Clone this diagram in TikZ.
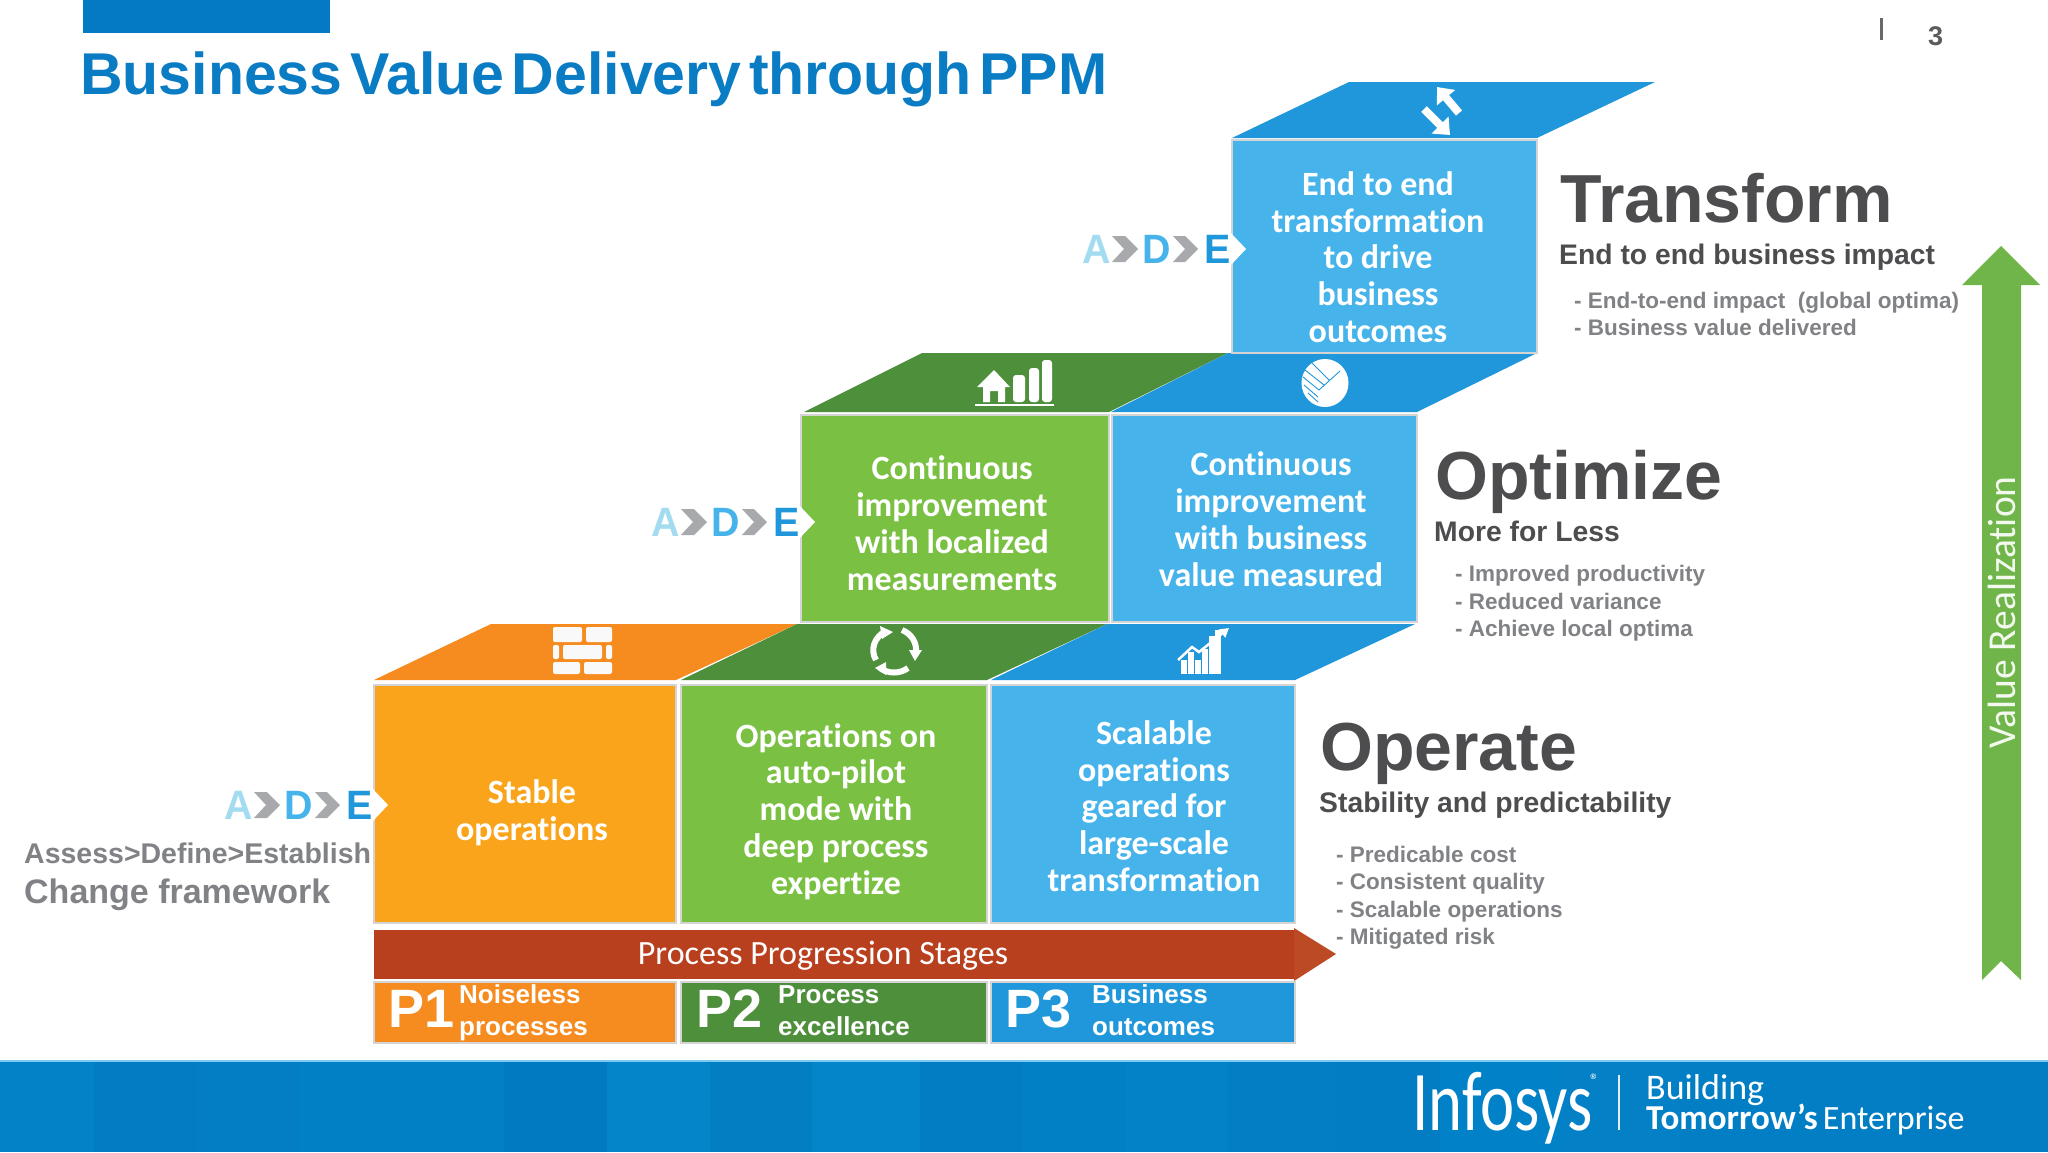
\documentclass[tikz,border=0pt]{standalone}
\usepackage{fontspec}
\usetikzlibrary{arrows.meta}
\setmainfont{Liberation Sans}
\newfontfamily\carl[Ligatures=NoCommon]{Carlito}
\definecolor{oFace}{HTML}{FAA41B}\definecolor{oTop}{HTML}{F68B1F}
\definecolor{gFace}{HTML}{7AC143}\definecolor{gTop}{HTML}{4E8F3C}
\definecolor{bFace}{HTML}{46B4EA}\definecolor{bTop}{HTML}{1F97DA}
\definecolor{redBar}{HTML}{B8401F}\definecolor{redHead}{HTML}{BC4A25}
\definecolor{head}{HTML}{4D4D4F}\definecolor{greyT}{HTML}{808285}
\definecolor{titleB}{HTML}{0A7CC4}\definecolor{tabB}{HTML}{0479C4}
\definecolor{chev}{HTML}{A7A9AC}\definecolor{aLight}{HTML}{A3DCF0}
\definecolor{arrowG}{HTML}{70B54A}\definecolor{edgeG}{HTML}{D4D4D4}
\definecolor{footB}{HTML}{0280C6}
\newcommand{\fsz}[1]{\fontsize{#1}{#1}\selectfont}
\tikzset{
 x=1pt,y=-1pt,
 face/.style={draw=edgeG,line width=1.2pt},
 boxtext/.style={font=\carl\bfseries\fontsize{34}{36.8}\selectfont,text=white,align=center,inner sep=0pt},
 htitle/.style={anchor=base west,inner sep=0pt,text=head,font=\bfseries\fsz{68}},
 hsub/.style={anchor=base west,inner sep=0pt,text=head,font=\bfseries\fsz{28.3}},
 hitem/.style={anchor=base west,inner sep=0pt,text=greyT,font=\bfseries\fsz{22.5}},
 adeletter/.style={anchor=base west,inner sep=0pt,xscale=.96,font=\bfseries\fsz{41}},
 pbig/.style={anchor=base west,inner sep=0pt,text=white,font=\bfseries\fsz{54}},
 psmall/.style={anchor=base west,align=left,inner sep=0pt,text=white,font=\bfseries\fontsize{26}{31.5}\selectfont},
 logotext/.style={anchor=base west,inner sep=0pt,text=white,font=\carl\fsz{36}},
 brick/.style={fill=white!95!gray,rounded corners=2pt},
 icon/.style={white,line width=#1},
}
\newcommand{\ademark}[3]{% left edge of box, centre y, name
 \begin{scope}[shift={(#1,#2)}]
  \node[adeletter,text=aLight] (#3a) at (-150,14) {A};
  \fill[chev] (-120,-13)--(-107,-13)--(-94,0)--(-107,13)--(-120,13)--(-108,0)--cycle;
  \node[adeletter,text=bFace] (#3d) at (-90,14) {D};
  \fill[chev] (-59,-13)--(-47,-13)--(-34,0)--(-47,13)--(-59,13)--(-47,0)--cycle;
  \node[adeletter,text=bTop] (#3e) at (-28,14) {E};
  \fill[white] (-3,-18)--(14,0)--(-3,18)--cycle;
 \end{scope}}
\begin{document}
\begin{tikzpicture}
\useasboundingbox (0,0) rectangle (2048,1152);
\fill[white] (0,0) rectangle (2048,1152);
% footer
\foreach \xa/\xb/\cc in {0/94/0483CA,94/196/0479C0,196/299/037DC3,299/397/0280C6,397/504/0280C6,504/607/0276BE,607/710/0587CB,710/812/027CC1,812/920/0588CC,920/1022/0279BF,1022/1125/0280C5,1125/1228/0484C9,1228/1335/027DC2,1335/1440/0279BF,1440/1560/0082C8,1560/1680/0480C6,1680/1800/017EC3,1800/1920/027DC2,1920/2048/0279BF}{
 \definecolor{stripeC}{HTML}{\cc}
 \fill[stripeC!55!footB] (\xa,1060) rectangle (\xb+0.5,1152);}
\fill[bFace!70!white] (0,1060) rectangle (2048,1061.5);
% header
\fill[tabB] (83,0) rectangle (330,33);
\node[anchor=base west,inner sep=0pt,text=titleB,font=\bfseries\fsz{59}] (title) at (80,94) {\spaceskip=7.6pt Business Value Delivery through PPM};
\draw[greyT!80!black,line width=2.4pt] (1881.5,18) -- (1881.5,40);
\node[anchor=base west,inner sep=0pt,text=greyT!70!black,font=\bfseries\fsz{27}] (pageno) at (1928,45) {3};
% top faces (parallelograms)
\fill[bTop] (1232,138)--(1349,82)--(1655,82)--(1537,138)--cycle;
\fill[gTop] (804,412)--(922,353)--(1228,353)--(1109,412)--cycle;
\fill[bTop] (1111,412)--(1228,353)--(1537,353)--(1417,412)--cycle;
\fill[oTop] (374,680)--(491,624)--(797,624)--(676,680)--cycle;
\fill[gTop] (681,680)--(797,624)--(1107,624)--(987,680)--cycle;
\fill[bTop] (991,680)--(1107,624)--(1415,624)--(1295,680)--cycle;
% front faces
\filldraw[face,fill=bFace] (1232,140) rectangle (1537,353);
\filldraw[face,fill=gFace] (801,415) rectangle (1109,622);
\filldraw[face,fill=bFace] (1112,415) rectangle (1417,622);
\filldraw[face,fill=oFace] (374,685) rectangle (676,923);
\filldraw[face,fill=gFace] (681,685) rectangle (987,923);
\filldraw[face,fill=bFace] (991,685) rectangle (1295,923);
% box texts
\node[boxtext] (t1) at (1378,257) {End to end\\transformation\\to drive\\business\\outcomes};
\node[boxtext] (t2) at (952,523) {Continuous\\improvement\\with localized\\measurements};
\node[boxtext] (t3) at (1271,519) {Continuous\\improvement\\with business\\value measured};
\node[boxtext] (t4) at (532,812.5) {Stable\\operations};
\node[boxtext] (t5) at (836,811.5) {Operations on\\auto-pilot\\mode with\\deep process\\expertize};
\node[boxtext] (t6) at (1154,806) {Scalable\\operations\\geared for\\large-scale\\transformation};
% red bar
\fill[redBar] (374,930) rectangle (1295,979);
\fill[redHead] (1294,928)--(1336,954)--(1294,981)--cycle;
\node[boxtext,font=\carl\fsz{34}] (stages) at (823,955.5) {Process Progression Stages};
% P strip
\filldraw[face,fill=oTop] (374,982) rectangle (676,1043);
\filldraw[face,fill=gTop] (681,982) rectangle (987,1043);
\filldraw[face,fill=bTop] (991,982) rectangle (1295,1043);
\node[pbig] (p1) at (388,1027) {P1};
\node[psmall] (p1a) at (459,1035) {Noiseless\\processes};
\node[pbig] (p2) at (696,1027) {P2};
\node[psmall] (p2a) at (778,1035) {Process\\excellence};
\node[pbig] (p3) at (1005,1027) {P3};
\node[psmall] (p3a) at (1092,1035) {Business\\outcomes};
% A>D>E
\ademark{374}{805}{m}
\ademark{801}{522}{n}
\ademark{1232}{249}{o}
% left caption
\node[anchor=base west,inner sep=0pt,text=greyT,font=\bfseries\fsz{28.5}] (adef) at (24,863) {Assess>Define>Establish};
\node[anchor=base west,inner sep=0pt,text=greyT,font=\bfseries\fsz{34}] (chfr) at (24,903) {Change framework};
% right labels
\node[htitle] (tr) at (1560,222) {Transform};
\node[hsub] (tr1) at (1559,264) {End to end business impact};
\node[hitem] (tr2) at (1574,308) {- End-to-end impact\ \ (global optima)};
\node[hitem] (tr3) at (1574,335) {- Business value delivered};
\node[htitle] (op) at (1435,499) {Optimize};
\node[hsub] (op1) at (1434,541) {More for Less};
\node[hitem] (op2) at (1455,581) {- Improved productivity};
\node[hitem] (op3) at (1455,609) {- Reduced variance};
\node[hitem] (op4) at (1455,636) {- Achieve local optima};
\node[htitle] (oe) at (1320,770) {Operate};
\node[hsub] (oe1) at (1319,812) {Stability and predictability};
\node[hitem] (oe2) at (1336,862) {- Predicable cost};
\node[hitem] (oe3) at (1336,889) {- Consistent quality};
\node[hitem] (oe4) at (1336,917) {- Scalable operations};
\node[hitem] (oe5) at (1336,944) {- Mitigated risk};
% value arrow
\fill[arrowG] (2001,246)--(2040,285)--(2021,285)--(2021,980)--(2001,961)--(1982,980)--(1982,285)--(1962,285)--cycle;
\node[rotate=90,inner sep=0pt,text=white!92!arrowG,font=\carl\fsz{39.5}] (vr) at (2002,612.5) {Value Realization};
% icon: transform arrows
\coordinate (ia1) at (1459,113); \coordinate (ia2) at (1437,87);
\coordinate (ib1) at (1424,109); \coordinate (ib2) at (1450,135);
\draw[white,line width=8pt,-{Triangle[length=14pt,width=23pt]}] (ia1) -- (ia2);
\draw[white,line width=8pt,-{Triangle[length=14pt,width=23pt]}] (ib1) -- (ib2);
% icon: pie
\fill[white] (1325,383) ellipse [x radius=23.5,y radius=24];
\draw[bTop,line width=0.9pt] (1303,377)--(1319,390)--(1340,371) (1305,370)--(1324,385) (1312,363)--(1329,380) (1304,385)--(1318,397) (1308,393)--(1318,402);
% icon: house and bars
\fill[white] (977,387)--(994,370)--(1010,387)--(1005,387)--(1005,402)--(998,402)--(998,391)--(990,391)--(990,402)--(983,402)--(983,387)--cycle;
\fill[white,rounded corners=3pt] (1013,402) rectangle (1025,375);
\fill[white,rounded corners=3pt] (1029,402) rectangle (1039,368);
\fill[white,rounded corners=3pt] (1042,402) rectangle (1052,360);
\draw[white,line width=2pt] (975,405)--(1054,405);
% icon: cycle
\coordinate (cyc) at (894,651);
\draw[icon=6pt] (876,660) .. controls (870,650) and (874,637) .. (886,631);
\draw[icon=6pt] (902,630) .. controls (912,634) and (917,643) .. (916,653);
\draw[icon=6pt] (908,668) .. controls (900,674) and (888,674) .. (880,668);
\fill[white] (880,626)--(893,632)--(882,639)--cycle;
\fill[white] (909,650)--(922,650)--(915,661)--cycle;
\fill[white] (886,662)--(886,675)--(875,668)--cycle;
% icon: chart
\foreach \xl/\yt in {1181/660,1188/652,1195/660,1202/649,1209/636,1215/630}{
 \fill[white] (\xl,674) rectangle (\xl+6,\yt);}
\draw[white,line width=2.5pt,-{Triangle[length=9pt,width=10pt]}] (1178,660)--(1192,647)--(1199,652)--(1229,628);
% icon: bricks
\foreach \xa/\ya/\xb/\yb in {553/627/582/642,586/627/612/642,553/645/559/659,563/645/602/659,606/645/612/659,553/662/580/674,584/662/612/674}{
 \fill[brick] (\xa,\ya) rectangle (\xb,\yb);}
% logo
\node[anchor=base west,inner sep=0pt,text=white,font=\carl\fsz{85},xscale=.76] (infosys) at (1412,1130) {Infosys};
\node[anchor=base west,inner sep=0pt,text=white,font=\carl\fsz{18}] (reg) at (1590,1086) {®};
\draw[white!85!bTop,line width=1.2pt] (1619,1075)--(1619,1130);
\node[logotext] (b1) at (1646,1099) {Building};
\node[logotext] (b2) at (1646,1129) {\fsz{35}\textbf{Tomorrow’s}\hspace{5pt}\fsz{34}Enterprise};
\end{tikzpicture}
\end{document}
